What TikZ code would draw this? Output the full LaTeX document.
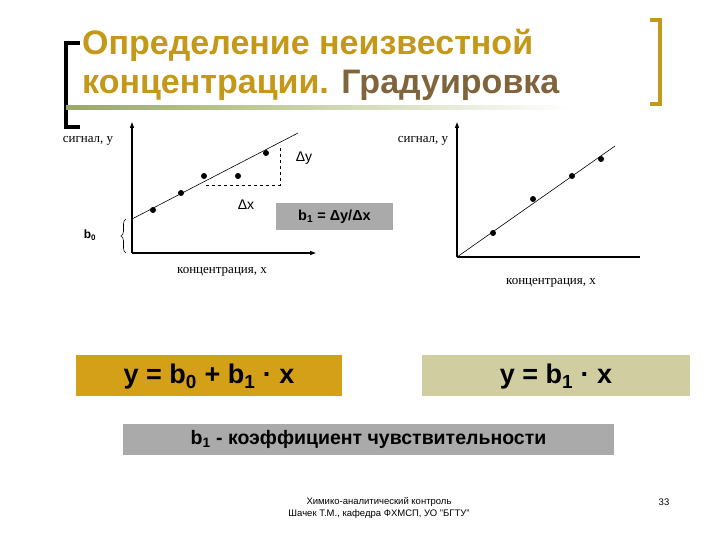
\documentclass[tikz,border=0pt]{standalone}
\usepackage{fontspec}
\setmainfont{Liberation Sans}
\newfontfamily\serifrm{Liberation Serif}
\usetikzlibrary{arrows.meta,decorations.pathreplacing}
\definecolor{gold}{RGB}{196,152,24}
\definecolor{brownt}{RGB}{128,100,60}
\definecolor{boxgold}{RGB}{212,160,23}
\definecolor{boxkhaki}{RGB}{208,206,160}
\definecolor{boxgray}{RGB}{170,170,170}
\definecolor{olive}{RGB}{150,170,90}
\tikzset{
 axis/.style={line width=1.3pt,-{Triangle[length=6pt,width=4pt]}},
 pt/.style={circle,fill=black,inner sep=0pt,minimum size=6pt},
 lbl/.style={font=\serifrm\fontsize{13}{14}\selectfont,inner sep=0pt},
 formula/.style={font=\bfseries\fontsize{27}{29}\selectfont,inner sep=0pt},
}
\begin{document}
\begin{tikzpicture}[x=1pt,y=-1pt]
\useasboundingbox[fill=white] (0,0) rectangle (720,540);
% brackets
\draw[line width=4.5pt] (80,43) -- (66,43) -- (66,127) -- (80,127);
\draw[gold,line width=4.5pt] (650,20) -- (660,20) -- (660,104) -- (650,104);
% gradient rule
\shade[left color=olive,right color=white] (66,106) rectangle (570,110);
% title
\node[anchor=base west,inner sep=0pt,font=\bfseries\fontsize{34}{36}\selectfont,text=gold] (t1) at (82,55) {Определение неизвестной};
\node[anchor=base west,inner sep=0pt,font=\bfseries\fontsize{34}{36}\selectfont] (t2) at (82,94) {\textcolor{gold}{концентрации.} \textcolor{brownt}{Градуировка}};
% left graph
\coordinate (O1) at (132,253);
\coordinate (Y1) at (132,122);
\coordinate (X1) at (316,253);
\draw[axis] (O1) -- (Y1);
\draw[axis] (O1) -- (X1);
\coordinate (L1a) at (132,219);
\coordinate (L1b) at (298,133);
\draw[line width=0.6pt] (L1a) -- (L1b);
\node[pt] (p1) at (153,210) {};
\node[pt] (p2) at (181,193) {};
\node[pt] (p3) at (204,176) {};
\node[pt] (p4) at (238,176) {};
\node[pt] (p5) at (266,153) {};
\coordinate (d1) at (206,185);
\coordinate (d2) at (280,185);
\coordinate (d3) at (280,145);
\draw[dashed,line width=0.6pt] (d1) -- (d2) -- (d3);
\node[font=\fontsize{14}{15}\selectfont] (dy) at (304,158) {Δy};
\node[font=\fontsize{14}{15}\selectfont] (dx) at (246,205) {Δx};
\node[fill=boxgray,minimum width=117pt,minimum height=27pt,font=\bfseries\fontsize{14.5}{16}\selectfont] (b1) at (334.5,217) {b\textsubscript{1} = Δy/Δx};
\draw[decorate,decoration={brace,amplitude=5pt},line width=0.6pt] (126,253) -- (126,219);
\node[font=\bfseries\fontsize{12}{13}\selectfont] (b0) at (90,235) {b\textsubscript{0}};
\node[lbl] (sy1) at (88,141) {сигнал, у};
\node[lbl] (cx1) at (222,272) {концентрация, х};
% right graph
\coordinate (O2) at (457,257);
\coordinate (Y2) at (457,122);
\coordinate (X2) at (640,257);
\draw[axis] (O2) -- (Y2);
\draw[line width=1.3pt] (O2) -- (X2);
\coordinate (L2b) at (615,146);
\draw[line width=0.6pt] (O2) -- (L2b);
\node[pt] (q1) at (493,233) {};
\node[pt] (q2) at (533,199) {};
\node[pt] (q3) at (572,176) {};
\node[pt] (q4) at (601,159) {};
\node[lbl] (sy2) at (423,141) {сигнал, у};
\node[lbl] (cx2) at (551,283) {концентрация, х};
% formula boxes
\node[fill=boxgold,minimum width=266pt,minimum height=41pt] (f1) at (209,375.5) {};
\node[formula] (f1t) at (209,377) {y = b\textsubscript{0} + b\textsubscript{1} · x};
\node[fill=boxkhaki,minimum width=268pt,minimum height=41pt] (f2) at (556,375.5) {};
\node[formula] (f2t) at (556,377) {y = b\textsubscript{1} · x};
\node[fill=boxgray,minimum width=491pt,minimum height=31pt,font=\bfseries\fontsize{19.5}{21}\selectfont] (f3) at (368.5,439.5) {b\textsubscript{1} - коэффициент чувствительности};
% footer
\node[font=\fontsize{9.5}{11.5}\selectfont,align=center] (foot) at (379,508) {Химико-аналитический контроль\\Шачек Т.М., кафедра ФХМСП, УО "БГТУ"};
\node[font=\fontsize{9.5}{11}\selectfont] (pg) at (664,502) {33};
\end{tikzpicture}
\end{document}
